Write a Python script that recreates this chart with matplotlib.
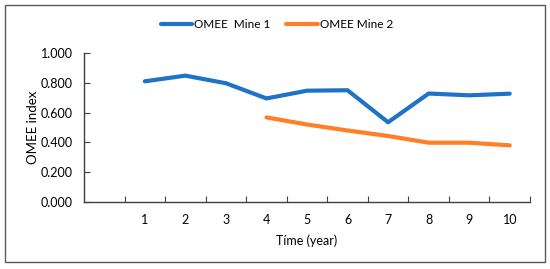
import matplotlib
matplotlib.use("Agg")
import matplotlib.pyplot as plt
from matplotlib.patches import Rectangle
import numpy as np

categories = ["", "1", "2", "3", "4", "5", "6", "7", "8", "9", "10"]
mine1_years = [1, 2, 3, 4, 5, 6, 7, 8, 9, 10]
mine1 = [0.810, 0.848, 0.797, 0.695, 0.747, 0.750, 0.535, 0.728, 0.716, 0.727]
mine2_years = [4, 5, 6, 7, 8, 9, 10]
mine2 = [0.568, 0.520, 0.480, 0.443, 0.398, 0.398, 0.380]

plt.rcParams['font.family'] = ['Lato', 'DejaVu Sans']

fig = plt.figure(figsize=(5.5, 2.69), dpi=100)
fig.patches.append(Rectangle((5/550, 7/269), 540/550, 257/269, transform=fig.transFigure,
                             fill=False, edgecolor='#595959', linewidth=1.0))
ax = fig.add_axes([84/550, 1-202/269, 446/550, 149/269])

x1 = np.array(mine1_years) + 0.5
x2 = np.array(mine2_years) + 0.5
ax.plot(x1, mine1, color='#1F73C6', lw=3.0, solid_capstyle='round', label='OMEE  Mine 1')
ax.plot(x2, mine2, color='#FF7F27', lw=3.0, solid_capstyle='round', label='OMEE Mine 2')

ax.set_xlim(0, len(categories))
ax.set_ylim(0, 1.0)
ax.set_xticks(np.arange(1, len(categories) + 1))
ax.set_xticklabels([])
ax.set_xticks(np.arange(len(categories)) + 0.5, minor=True)
ax.set_xticklabels(categories, minor=True)
ax.tick_params(axis='x', which='major', direction='in', length=4, width=0.8, color='#404040')
ax.tick_params(axis='x', which='minor', length=0, pad=9, labelsize=9)
ax.set_yticks(np.arange(0, 1.01, 0.2))
ax.set_yticklabels([f"{v:.3f}" for v in np.arange(0, 1.01, 0.2)])
ax.tick_params(axis='y', direction='in', length=4, width=0.8, color='#404040', labelsize=9, pad=8)
for s in ['top', 'right']:
    ax.spines[s].set_visible(False)
for s in ['left', 'bottom']:
    ax.spines[s].set_color('#404040')
    ax.spines[s].set_linewidth(1.0)

ax.set_xlabel("Tíme (year)", fontsize=9, labelpad=6)
ax.set_ylabel("OMEE index", fontsize=9.5, labelpad=1)

fig.legend(loc='center', bbox_to_anchor=(0.503, 1-25/269), ncol=2, frameon=False,
           fontsize=8.5, handlelength=2.7, handletextpad=0.1, columnspacing=1.4)

fig.savefig("out.png", dpi=100)
